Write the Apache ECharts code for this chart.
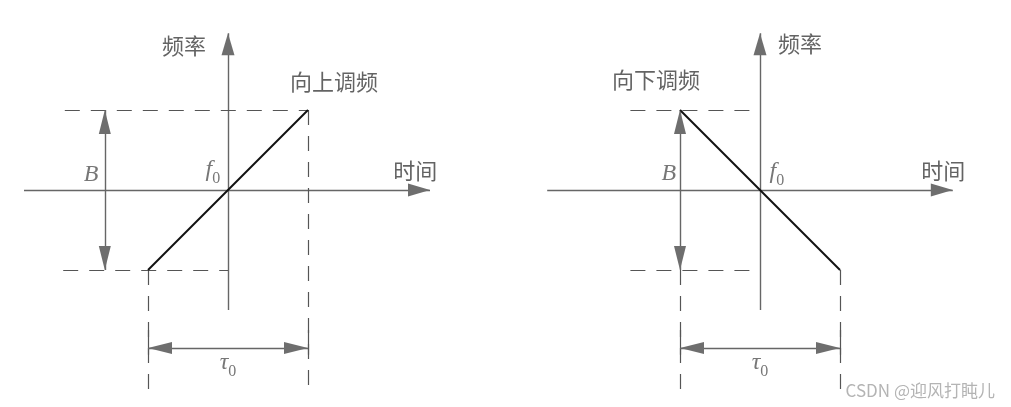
<!DOCTYPE html>
<html>
<head>
<meta charset="utf-8">
<script src="https://cdn.jsdelivr.net/npm/echarts@6/dist/echarts.min.js"></script>
<style>
html, body { margin: 0; padding: 0; background: #fff; }
#myChart { width: 1011px; height: 407px; }
</style>
</head>
<body>
<div id="myChart"></div>
<script>
// 数据单位: 横轴 τ0/2 = 1, 纵轴 B/2 = 1, 原点为 f0
const xRange = [-2.75, 2.75]
const yRange = [-2.625, 2.25]

// 左图: 向上调频
const upChirp = [[-1, -1], [1, 1]]
const upTimeAxis = [[-2.55, 0], [2.525, 0]]
const upFreqAxis = [[0, -1.5], [0, 1.96]]
const upDashH = [[[-2.04, 1], [1, 1]], [[-2.06, -1], [0, -1]]]
const upDashV = [[[1, 1], [1, -2.5]], [[-1, -1], [-1, -2.5]]]
const upBArrow = [[-1.54, -1], [-1.54, 1]]
const upTauArrow = [[-1, -1.975], [1, -1.975]]
const upTicks = [[[-1, -1.75], [-1, -2.06]], [[1, -1.75], [1, -2.06]]]
const upLabels = [
    ['频率', -0.55, 1.8],
    ['向上调频', 1.325, 1.35],
    ['时间', 2.34, 0.24],
    ['B', -1.71, 0.19],
    ['f0', -0.19, 0.2],
    ['τ0', 0, -2.21]
]

// 右图: 向下调频
const downChirp = [[-1, 1], [1, -1]]
const downTimeAxis = [[-2.66, 0], [2.41, 0]]
const downFreqAxis = [[0, -1.5], [0, 1.96]]
const downDashH = [[[-1.62, 1], [0, 1]], [[-1.62, -1], [0, -1]]]
const downDashV = [[[-1, -1], [-1, -2.53]], [[1, -1], [1, -2.53]]]
const downBArrow = [[-1, -1], [-1, 1]]
const downTauArrow = [[-1, -1.975], [1, -1.975]]
const downTicks = [[[-1, -1.75], [-1, -2.06]], [[1, -1.75], [1, -2.06]]]
const downLabels = [
    ['频率', 0.5, 1.825],
    ['向下调频', -1.3, 1.375],
    ['时间', 2.29, 0.24],
    ['B', -1.14, 0.21],
    ['f0', 0.21, 0.18],
    ['τ0', 0, -2.21]
]

const grey = '#666'
const cjk = 'Noto Sans CJK SC'

function segs(gi, list, style) {
    return {
        type: 'lines', coordinateSystem: 'cartesian2d', xAxisIndex: gi, yAxisIndex: gi,
        silent: true, z: 2, lineStyle: Object.assign({ opacity: 1 }, style),
        data: list.map(c => ({ coords: c }))
    }
}

// 箭头: 尖端落在线段端点, 方向取自线段
function heads(gi, ends, w, h, color) {
    const data = ends.map(([from, to]) => {
        const a = Math.atan2(to[1] - from[1], to[0] - from[0])
        return {
            value: to,
            symbolRotate: a * 180 / Math.PI - 90,
            symbolOffset: [-Math.cos(a) * h / 2, Math.sin(a) * h / 2]
        }
    })
    return {
        type: 'scatter', xAxisIndex: gi, yAxisIndex: gi, silent: true, z: 3,
        symbol: 'triangle', symbolSize: [w, h], itemStyle: { color: color, opacity: 1 }, data: data
    }
}

function labels(gi, list) {
    const data = list.map(([t, x, y]) => {
        let label
        if (t === 'f0' || t === 'τ0') {
            label = { formatter: '{i|' + t[0] + '}{s|0}' }
        } else if (t === 'B') {
            label = { formatter: '{b|B}' }
        } else {
            label = { formatter: t }
        }
        return { value: [x, y], label: label }
    })
    return {
        type: 'scatter', xAxisIndex: gi, yAxisIndex: gi, silent: true, z: 4,
        symbolSize: 0, data: data,
        label: {
            show: true, position: 'inside', color: '#3c3c3c', fontFamily: cjk, fontSize: 22,
            rich: {
                b: { fontFamily: 'Liberation Serif', fontStyle: 'italic', fontSize: 24, color: '#555' },
                i: { fontFamily: 'Liberation Serif', fontStyle: 'italic', fontSize: 24, color: '#555', verticalAlign: 'bottom', lineHeight: 26, padding: [0, 0, 5, 0] },
                s: { fontFamily: 'Liberation Serif', fontSize: 16, color: '#555', verticalAlign: 'bottom', lineHeight: 20 }
            }
        }
    }
}

function diagram(gi, d) {
    const dash = { color: '#555', width: 1.2, type: [15, 11] }
    const axisLine = { color: grey, width: 1.4 }
    return [
        segs(gi, [d.time, d.freq], axisLine),
        segs(gi, d.dashH, dash),
        segs(gi, d.dashV, dash),
        segs(gi, d.ticks, { color: '#555', width: 1.2 }),
        segs(gi, [d.b, d.tau], { color: grey, width: 1.4 }),
        segs(gi, [d.chirp], { color: '#111', width: 2 }),
        heads(gi, [d.time, d.freq], 13, 22, '#6e6e6e'),
        heads(gi, [d.b, [d.b[1], d.b[0]], d.tau, [d.tau[1], d.tau[0]]], 12, 24, '#6e6e6e'),
        labels(gi, d.labels)
    ]
}

let myChart = echarts.init(document.getElementById('myChart'))
const axisOpt = { type: 'value', show: false }
myChart.setOption({
    animation: false,
    backgroundColor: '#fff',
    grid: [
        { left: 8, top: 10, width: 440, height: 390 },
        { left: 540, top: 10, width: 440, height: 390 }
    ],
    xAxis: [0, 1].map(i => Object.assign({ gridIndex: i, min: xRange[0], max: xRange[1] }, axisOpt)),
    yAxis: [0, 1].map(i => Object.assign({ gridIndex: i, min: yRange[0], max: yRange[1] }, axisOpt)),
    graphic: [{
        type: 'text', right: 16, bottom: 8,
        style: { text: 'CSDN @迎风打盹儿', font: '17px "Noto Sans CJK SC"', fill: '#b4b4b4' }
    }],
    series: [].concat(
        diagram(0, { chirp: upChirp, time: upTimeAxis, freq: upFreqAxis, dashH: upDashH, dashV: upDashV,
            b: upBArrow, tau: upTauArrow, ticks: upTicks, labels: upLabels }),
        diagram(1, { chirp: downChirp, time: downTimeAxis, freq: downFreqAxis, dashH: downDashH, dashV: downDashV,
            b: downBArrow, tau: downTauArrow, ticks: downTicks, labels: downLabels })
    )
})
</script>
</body>
</html>
